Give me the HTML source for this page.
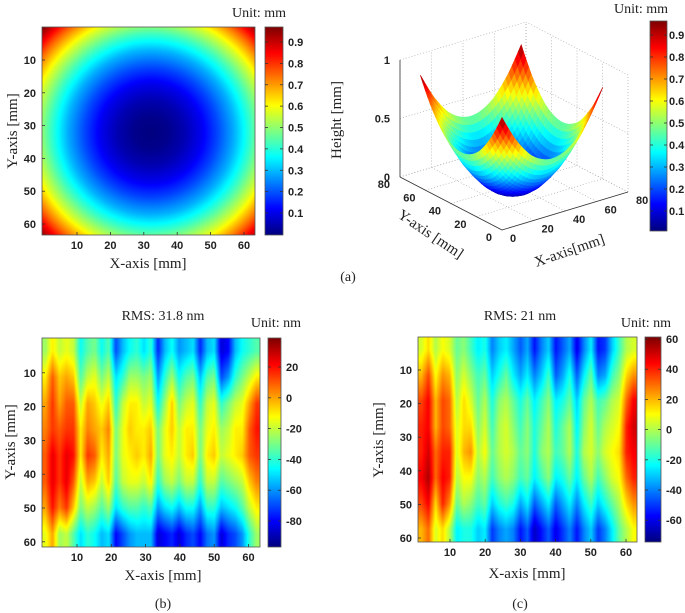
<!DOCTYPE html>
<html><head><meta charset="utf-8"><style>
body{margin:0;background:#fff}
#wrap{position:relative;width:685px;height:613px;overflow:hidden;background:#fff}
canvas{position:absolute}
svg{position:absolute;left:0;top:0}
</style></head><body>
<div id="wrap">
<canvas id="heatA" style="left:42px;top:27px" width="213" height="208"></canvas>
<canvas id="cbA" style="left:265px;top:27px" width="18" height="208"></canvas>
<canvas id="cb3d" style="left:650px;top:21px" width="17" height="210"></canvas>
<canvas id="heatB" style="left:42px;top:338px" width="218" height="209"></canvas>
<canvas id="cbB" style="left:268px;top:338px" width="13" height="209"></canvas>
<canvas id="heatC" style="left:418px;top:337px" width="219" height="205"></canvas>
<canvas id="cbC" style="left:645px;top:337px" width="16" height="205"></canvas>
<svg id="fig" width="685" height="613"></svg>
</div>
<script>
// ---- data ----
const radiusSamples=[0,5,10,15,20,25,30,35,40,45,47];
const heightSamples=[0,0.012,0.047,0.105,0.19,0.29,0.42,0.57,0.75,0.95,1.03];
const surfCenter=[32,32];
const mmTicks=[10,20,30,40,50,60];
const cbTicksA=[0.1,0.2,0.3,0.4,0.5,0.6,0.7,0.8,0.9];
const zTicks=[0,0.5,1];
const zTickLabels=['0','0.5','1'];
const xy3dTicks=[0,20,40,60,80];
const cbTicksB=[20,0,-20,-40,-60,-80];
const cbTicksC=[60,40,20,0,-20,-40,-60];
// residual maps: each inner array = one column (≈2 mm), values top→bottom (nm)
const colsB=[
[-25,-10,0,5,10,10,0,-15],[-10,10,15,15,25,25,20,0],[-20,-5,0,10,15,15,5,-25],[-15,0,10,15,25,25,15,-20],
[-20,-5,10,15,20,10,-5,-35],[-45,-35,-20,-10,-10,-20,-30,-50],[-35,-20,0,5,15,0,-20,-40],[-30,-15,-5,0,10,-5,-25,-45],
[-45,-30,-15,-5,-10,-20,-35,-55],[-35,-20,-5,5,0,-5,-25,-50],[-70,-50,-40,-30,-30,-35,-50,-80],[-55,-40,-20,-15,-15,-20,-40,-70],
[-45,-25,-10,-5,-10,-15,-35,-60],[-40,-25,-10,-10,-5,-15,-35,-55],[-50,-30,-20,-10,-10,-20,-40,-55],[-40,-25,-15,-5,0,-10,-35,-55],
[-75,-60,-45,-30,-30,-40,-60,-85],[-55,-40,-25,-15,-15,-25,-50,-80],[-45,-25,-5,-5,-10,-20,-45,-75],[-60,-45,-30,-20,-20,-30,-55,-85],
[-55,-35,-20,-10,-10,-20,-45,-75],[-50,-30,-15,-10,-5,-20,-45,-70],[-75,-55,-40,-30,-30,-40,-60,-80],[-55,-35,-20,-15,-10,-20,-40,-65],
[-50,-30,-15,-10,-5,-20,-40,-60],[-85,-70,-40,-25,-20,-35,-55,-85],[-80,-60,-30,-20,-15,-30,-50,-75],[-55,-40,-20,-10,-10,-25,-45,-70],
[-45,-30,-15,-10,-5,-20,-35,-60],[-40,-20,0,10,10,-5,-20,-40],[-35,-10,15,20,15,5,-10,-25]];
const colsC=[
[5,20,35,40,40,45,35,20],[15,35,45,45,50,55,45,30],[0,10,20,20,30,30,15,5],[10,25,35,35,40,45,40,15],
[5,20,30,30,40,40,25,0],[-10,-5,0,5,5,0,-10,-25],[-5,5,15,15,20,10,0,-20],[-15,-5,5,15,25,10,-5,-20],
[-25,-15,-10,-5,0,-5,-15,-30],[-20,-10,0,5,10,0,-10,-25],[-40,-30,-20,-15,-10,-15,-30,-50],[-30,-20,-5,0,0,-5,-20,-40],
[-25,-10,0,5,5,0,-15,-35],[-35,-25,-10,-5,0,-5,-20,-40],[-45,-35,-20,-15,-10,-15,-35,-55],[-35,-25,-10,-5,-5,-10,-25,-45],
[-55,-40,-25,-20,-20,-25,-45,-65],[-40,-30,-15,-10,-5,-15,-35,-55],[-30,-15,-5,0,0,-5,-25,-45],[-55,-45,-25,-20,-15,-25,-45,-60],
[-45,-35,-20,-10,-10,-20,-35,-50],[-35,-20,-10,0,0,-10,-25,-40],[-60,-45,-30,-25,-20,-25,-40,-55],[-40,-25,-10,-5,0,-10,-25,-40],
[-25,-10,0,5,5,0,-15,-30],[-55,-40,-15,-10,-5,-15,-30,-50],[-50,-35,-10,0,5,-5,-20,-40],[-30,-15,0,5,10,5,-10,-25],
[-15,-5,5,10,15,10,0,-10],[0,15,30,40,40,30,15,0],[5,25,45,50,45,40,25,10]];
const rangeA=[0,0.97], range3d=[0,0.964], rangeB=[-97,39], rangeC=[-74,61];

// ---- helpers ----
const NS='http://www.w3.org/2000/svg';
const svg=document.getElementById('fig');
function mk(tag,attrs,txt){const e=document.createElementNS(NS,tag);for(const k in attrs)e.setAttribute(k,attrs[k]);if(txt!==undefined)e.textContent=txt;svg.appendChild(e);return e;}
function cl(v){return v<0?0:v>1?1:v;}
function jet(t){t=cl(t);return [cl(1.5-Math.abs(4*t-3)),cl(1.5-Math.abs(4*t-2)),cl(1.5-Math.abs(4*t-1))].map(v=>Math.round(v*255));}
function jetStr(t){const c=jet(t);return 'rgb('+c[0]+','+c[1]+','+c[2]+')';}
function heightAt(x,y){const r=Math.hypot(x-surfCenter[0],y-surfCenter[1]);
 for(let i=1;i<radiusSamples.length;i++){if(r<=radiusSamples[i]){const f=(r-radiusSamples[i-1])/(radiusSamples[i]-radiusSamples[i-1]);return heightSamples[i-1]+f*(heightSamples[i]-heightSamples[i-1]);}}
 return heightSamples[heightSamples.length-1];}
function colorbar(id,range){const c=document.getElementById(id),g=c.getContext('2d'),im=g.createImageData(c.width,c.height);
 for(let y=0;y<c.height;y++){const col=jet(1-y/(c.height-1));for(let x=0;x<c.width;x++){const i=(y*c.width+x)*4;im.data[i]=col[0];im.data[i+1]=col[1];im.data[i+2]=col[2];im.data[i+3]=255;}}
 g.putImageData(im,0,0);}
function heatGrid(id,cols,range){const c=document.getElementById(id),g=c.getContext('2d'),W=c.width,H=c.height,im=g.createImageData(W,H);
 const nc=cols.length,nr=cols[0].length;
 for(let py=0;py<H;py++){let fy=(py+0.5)/H*nr-0.5;fy=Math.max(0,Math.min(nr-1,fy));const r0=Math.floor(fy),r1=Math.min(nr-1,r0+1),ty=fy-r0;
  for(let px=0;px<W;px++){let fx=(px+0.5)/W*nc-0.5;fx=Math.max(0,Math.min(nc-1,fx));const c0=Math.floor(fx),c1=Math.min(nc-1,c0+1),tx=fx-c0;
   const v=(cols[c0][r0]*(1-tx)+cols[c1][r0]*tx)*(1-ty)+(cols[c0][r1]*(1-tx)+cols[c1][r1]*tx)*ty;
   const col=jet((v-range[0])/(range[1]-range[0]));const i=(py*W+px)*4;im.data[i]=col[0];im.data[i+1]=col[1];im.data[i+2]=col[2];im.data[i+3]=255;}}
 g.putImageData(im,0,0);}

// ---- panel a (2D) ----
const xA=mm=>77+(mm-10)*3.34, yA=mm=>60+(mm-10)*3.28, cbA=v=>213-(v-0.1)*213.75;
(function(){const c=document.getElementById('heatA'),g=c.getContext('2d'),im=g.createImageData(c.width,c.height);
 for(let py=0;py<c.height;py++)for(let px=0;px<c.width;px++){const mx=(px+42-77)/3.34+10,my=(py+27-60)/3.28+10;
  const col=jet((heightAt(mx,my)-rangeA[0])/(rangeA[1]-rangeA[0]));const i=(py*c.width+px)*4;im.data[i]=col[0];im.data[i+1]=col[1];im.data[i+2]=col[2];im.data[i+3]=255;}
 g.putImageData(im,0,0);})();
colorbar('cbA',rangeA);colorbar('cb3d',range3d);colorbar('cbB',rangeB);colorbar('cbC',rangeC);
heatGrid('heatB',colsB,rangeB);heatGrid('heatC',colsC,rangeC);

const tickFont={'font-family':'Liberation Sans, Arial, sans-serif','font-weight':'bold','font-size':'11','fill':'#222'};
const serif={'font-family':'Liberation Serif, Times New Roman, serif','font-size':'15','fill':'#222'};
function heatAxes(x0,y0,x1,y1,xs,ys,name){
 const f=mk('rect',{x:x0,y:y0,width:x1-x0,height:y1-y0,fill:'none',stroke:'#555','stroke-width':0.8});
 
 
 mmTicks.forEach(t=>{const X=xs(t);
  const l=mk('line',{x1:X,x2:X,y1:y1,y2:y1-3,stroke:'#333','stroke-width':0.8});
  
  
  const tx=mk('text',Object.assign({x:X,y:y1+14,'text-anchor':'middle'},tickFont),String(t));
  
  
  const Y=ys(t);
  const l2=mk('line',{x1:x0,x2:x0+3,y1:Y,y2:Y,stroke:'#333','stroke-width':0.8});
  
  
  const ty=mk('text',Object.assign({x:x0-6,y:Y+4,'text-anchor':'end'},tickFont),String(t));
  
  });}
function cbAxes(x0,y0,w,h,ticks,scale,fmt,name,gap){
 const f=mk('rect',{x:x0,y:y0,width:w,height:h,fill:'none',stroke:'#555','stroke-width':0.8});
 
 
 ticks.forEach(t=>{const Y=scale(t);
  const l=mk('line',{x1:x0+w-3,x2:x0+w,y1:Y,y2:Y,stroke:'#333','stroke-width':0.8});
  
  
  const l2=mk('line',{x1:x0,x2:x0+3,y1:Y,y2:Y,stroke:'#333','stroke-width':0.8});
  
  
  const tx=mk('text',Object.assign({x:x0+w+(gap===undefined?5:gap),y:Y+4},tickFont),fmt(t));
  
  });}
function label(x,y,s,name,extra){const t=mk('text',Object.assign({x:x,y:y,'text-anchor':'middle'},serif,extra||{}),s);
 
 return t;}

heatAxes(42,27,255,235,xA,yA,'panel-a');
cbAxes(265,27,18,208,cbTicksA,cbA,v=>v.toFixed(1),'colorbar-a');
label(148,268,'X-axis [mm]','panel-a-x-title');
label(17,131,'Y-axis [mm]','panel-a-y-title',{transform:'rotate(-90 17 131)'});
label(259,17,'Unit: mm','panel-a-unit',{'font-size':'14'});

// ---- panel a (3D) ----
const P=(x,y,z)=>[502+x*1.575-y*1.275,230-x*0.475-y*0.6625-z*117];
function line3(a,b,attrs,name){const p=P(...a),q=P(...b);const l=mk('line',Object.assign({x1:p[0],y1:p[1],x2:q[0],y2:q[1]},attrs));
 
 }
const dot={stroke:'#aaa','stroke-width':0.7,'stroke-dasharray':'1,2'};
xy3dTicks.forEach(t=>{line3([t,0,0],[t,80,0],dot,'floor-grid');line3([0,t,0],[80,t,0],dot,'floor-grid');
 line3([t,80,0],[t,80,1],dot,'wall-grid');line3([80,t,0],[80,t,1],dot,'wall-grid');});
zTicks.forEach(z=>{line3([0,80,z],[80,80,z],dot,'wall-grid');line3([80,0,z],[80,80,z],dot,'wall-grid');});
line3([0,0,0],[0,80,0],{stroke:'#333','stroke-width':0.8},'y-axis-3d');
line3([0,0,0],[80,0,0],{stroke:'#333','stroke-width':0.8},'x-axis-3d');
line3([0,80,0],[0,80,1],{stroke:'#333','stroke-width':0.8},'z-axis-3d');
// surface
const quads=[];const step=2;
for(let i=0;i<32;i++)for(let j=0;j<32;j++)quads.push([i*step,j*step]);
quads.sort((a,b)=>(b[0]+b[1])-(a[0]+a[1]));
quads.forEach(q=>{const [x,y]=q;const pts=[[x,y],[x+step,y],[x+step,y+step],[x,y+step]];
 let zs=0;const s=pts.map(p=>{const z=heightAt(p[0],p[1]);zs+=z;return P(p[0],p[1],z).join(',');}).join(' ');
 const c=jetStr((zs/4-range3d[0])/(range3d[1]-range3d[0]));
 const pg=mk('polygon',{points:s,fill:c,stroke:c,'stroke-width':0.7});
 
 });
zTicks.forEach((z,i)=>{const p=P(0,80,z);const t=mk('text',Object.assign({x:p[0]-10,y:p[1]+4,'text-anchor':'end'},tickFont),zTickLabels[i]);
 
 });
xy3dTicks.forEach(v=>{let p=P(0,v,0);const t=mk('text',Object.assign({x:p[0]-10,y:p[1]+11,'text-anchor':'end'},tickFont),String(v));
 
 
 p=P(v,0,0);const t2=mk('text',Object.assign({x:p[0]+8,y:p[1]+12,'text-anchor':'start'},tickFont),String(v));
 
 });
label(341,120,'Height [mm]','z-axis-title-3d',{transform:'rotate(-90 341 120)'});
label(428,238,'Y-axis [mm]','y-axis-title-3d',{transform:'rotate(34 428 238)'});
label(571,255,'X-axis[mm]','x-axis-title-3d',{transform:'rotate(-19 571 255)'});
cbAxes(650,21,17,210,cbTicksA,v=>211-(v-0.1)*220,v=>v.toFixed(1),'colorbar-3d',2);
label(641,13,'Unit: mm','panel-3d-unit',{'font-size':'14'});
label(348,281,'(a)','caption-a',{'font-size':'14'});

// ---- panel b ----
const xB=mm=>42.7+mm*3.43, yB=mm=>339+mm*3.38, cbB=v=>367-(v-20)*1.54;
heatAxes(42,338,260,547,xB,yB,'panel-b');
cbAxes(268,338,13,209,cbTicksB,cbB,v=>String(v),'colorbar-b');
label(163,320,'RMS: 31.8 nm','panel-b-title',{'font-size':'14'});
label(276,327,'Unit: nm','panel-b-unit',{'font-size':'14'});
label(163,580,'X-axis [mm]','panel-b-x-title');
label(15,442,'Y-axis [mm]','panel-b-y-title',{transform:'rotate(-90 15 442)'});
label(163,608,'(b)','caption-b',{'font-size':'14'});

// ---- panel c ----
const xC=mm=>450+(mm-10)*3.52, yC=mm=>370+(mm-10)*3.36, cbC=v=>339+(60-v)*1.51;
heatAxes(418,337,637,542,xC,yC,'panel-c');
cbAxes(645,337,16,205,cbTicksC,cbC,v=>String(v),'colorbar-c');
label(520,320,'RMS: 21 nm','panel-c-title',{'font-size':'14'});
label(646,327,'Unit: nm','panel-c-unit',{'font-size':'14'});
label(527,578,'X-axis [mm]','panel-c-x-title');
label(383,440,'Y-axis [mm]','panel-c-y-title',{transform:'rotate(-90 383 440)'});
label(520,608,'(c)','caption-c',{'font-size':'14'});
</script>
</body></html>
